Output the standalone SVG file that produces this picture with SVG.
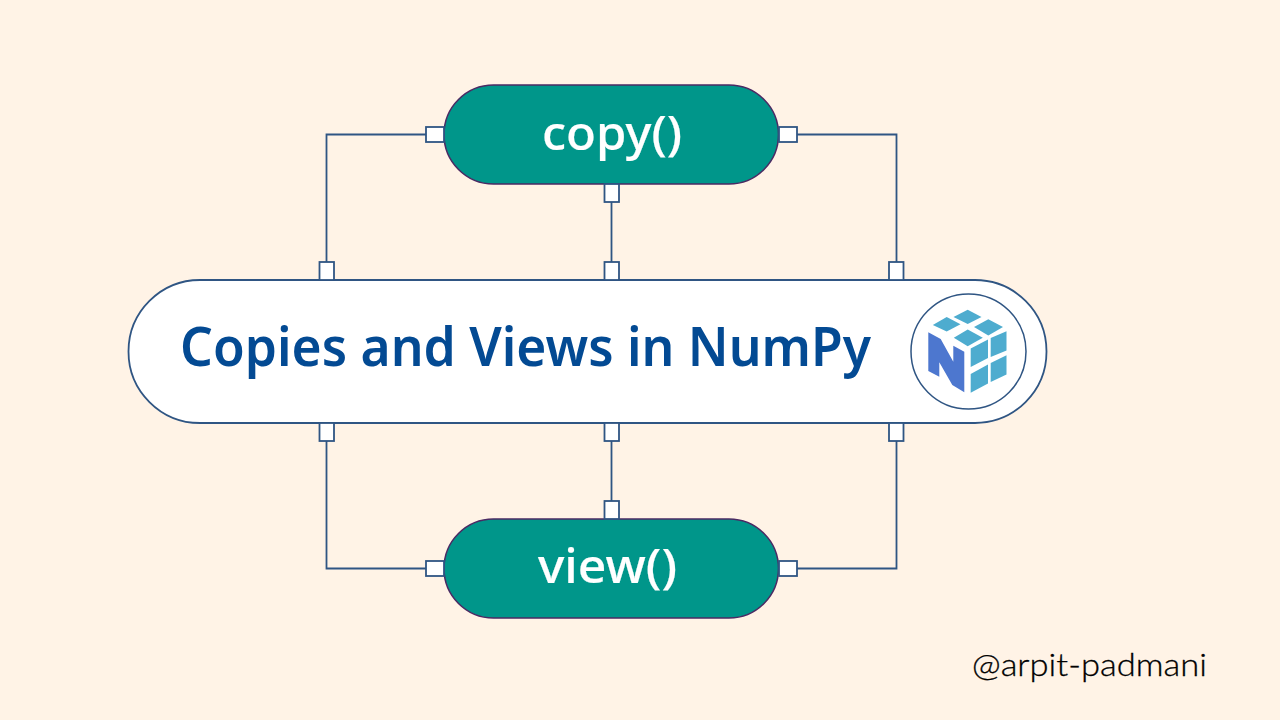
<svg xmlns="http://www.w3.org/2000/svg" width="1280" height="720" viewBox="0 0 1280 720">
<style>
.conn{fill:none;stroke:#2f5583;stroke-width:1.8}
.port{fill:#fff;stroke:#2f5583;stroke-width:1.8}
.pill{fill:#00968a;stroke:#4a2a63;stroke-width:1.5}
.lbl{font-family:"Noto Sans","Open Sans",sans-serif;font-weight:500;fill:#fff;font-size:47px;stroke:#fff;stroke-width:.2}
.cube{fill:#4eaccf}
</style>
<rect width="1280" height="720" fill="#fff3e6"/>
<g id="connectors">
<path class="conn" d="M426 134.500H326.500V262"/>
<path class="conn" d="M797 134.500H896.500V262"/>
<path class="conn" d="M611.500 202V262"/>
<path class="conn" d="M326.500 441V568.500H426"/>
<path class="conn" d="M896.500 441V568.500H797"/>
<path class="conn" d="M611.500 441V501"/>
</g>
<g id="node-main">
<rect x="128.500" y="280" width="918" height="143" rx="71.500" fill="#fff" stroke="#2f5583" stroke-width="1.800"/>
<text x="180" y="366" font-family="'Noto Sans','Open Sans',sans-serif" font-weight="600" font-size="54" fill="#034a93" textLength="691" lengthAdjust="spacingAndGlyphs">Copies and Views in NumPy</text>
<circle cx="968.500" cy="351.500" r="57.500" fill="#fff" stroke="#2f5583" stroke-width="1.500"/>
<g id="numpy-logo">
<polygon class="cube" points="967.700,309.700 981.500,317 967.700,324 953.500,317"/>
<polygon class="cube" points="946.700,317 960.500,324.300 946.700,331.500 932.800,325"/>
<polygon class="cube" points="988.300,319.200 1003,327 988.300,335.500 974,327"/>
<polygon class="cube" points="967.700,329.500 982.800,337.700 967.700,346.200 953.800,337.700"/>
<polygon class="cube" points="970.700,348.500 988,339.500 988,358 970.700,367"/>
<polygon class="cube" points="990.700,338 1006.500,331.200 1006.500,350.500 990.700,357"/>
<polygon class="cube" points="970.700,374 988,364.500 988,383.500 970.700,392.800"/>
<polygon class="cube" points="990.700,363 1006.500,355.200 1006.500,374.500 990.700,382"/>
<polygon fill="#4d77cf" points="928.300,332.300 940.700,339 953.300,361.700 953.300,345.700 964.300,351.700 964.300,392.300 952.300,385 939.300,362.300 939.300,376.700 928.300,371"/>
</g>
</g>
<g id="node-copy">
<rect class="pill" x="444" y="85" width="334.500" height="99" rx="49.500"/>
<text class="lbl" x="542" y="150" textLength="140" lengthAdjust="spacingAndGlyphs">copy()</text>
<rect class="port" x="426" y="127" width="18" height="15"/>
<rect class="port" x="779" y="127" width="18" height="15"/>
<rect class="port" x="604.500" y="184" width="14.500" height="18"/>
</g>
<g id="node-view">
<rect class="pill" x="444" y="519" width="334.500" height="99" rx="49.500"/>
<text class="lbl" x="538" y="583" textLength="139" lengthAdjust="spacingAndGlyphs">view()</text>
<rect class="port" x="426" y="561" width="18" height="15"/>
<rect class="port" x="779" y="561" width="18" height="15"/>
<rect class="port" x="604.500" y="501" width="14.500" height="18"/>
</g>
<g id="ports-main">
<rect class="port" x="319.500" y="262" width="14.500" height="18"/>
<rect class="port" x="604.500" y="262" width="14.500" height="18"/>
<rect class="port" x="889" y="262" width="14.500" height="18"/>
<rect class="port" x="319.500" y="423" width="14.500" height="18"/>
<rect class="port" x="604.500" y="423" width="14.500" height="18"/>
<rect class="port" x="889" y="423" width="14.500" height="18"/>
</g>
<text x="972" y="676" font-family="Lato,'Noto Sans',sans-serif" font-weight="300" font-size="31" fill="#000" stroke="#000" stroke-width=".3" textLength="235" lengthAdjust="spacingAndGlyphs">@arpit-padmani</text>
</svg>
